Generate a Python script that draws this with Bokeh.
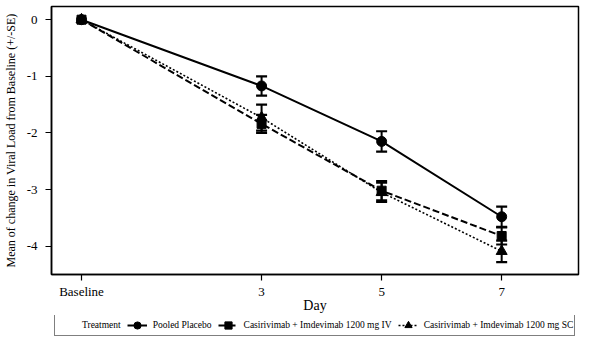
from bokeh.plotting import figure
from bokeh.layouts import column
from bokeh.models import FixedTicker, Legend, LegendItem, ColumnDataSource, Range1d
from bokeh.embed import file_html
from bokeh.resources import INLINE

days = [0, 3, 5, 7]
day_labels = {0: "Baseline", 3: "3", 5: "5", 7: "7"}
y_ticks = [0, -1, -2, -3, -4]

legend_title = "Treatment"
series_names = ["Pooled Placebo",
                "Casirivimab + Imdevimab 1200 mg IV",
                "Casirivimab + Imdevimab 1200 mg SC"]
placebo_mean = [0.0, -1.17, -2.15, -3.48]
placebo_se = [0.0, 0.17, 0.18, 0.18]
iv_mean = [0.0, -1.84, -3.02, -3.82]
iv_se = [0.0, 0.16, 0.17, 0.15]
sc_mean = [0.0, -1.73, -3.05, -4.09]
sc_se = [0.0, 0.23, 0.17, 0.19]

FONT = "Liberation Serif"

p = figure(width=606, height=315, output_backend="svg", toolbar_location=None,
           x_range=Range1d(-0.5, 8.28), y_range=Range1d(-4.5, 0.233),
           min_border_left=46, min_border_right=28, min_border_top=6,
           min_border_bottom=6)
p.grid.visible = False
p.outline_line_color = "black"
p.outline_line_width = 1.5
p.background_fill_color = "white"
p.border_fill_color = "white"

p.xaxis.ticker = FixedTicker(ticks=days)
p.xaxis.major_label_overrides = day_labels
p.yaxis.ticker = FixedTicker(ticks=y_ticks)
p.yaxis.major_label_overrides = {t: str(t) for t in y_ticks}
for ax in (p.xaxis, p.yaxis):
    ax.axis_line_color = "black"
    ax.axis_line_width = 1.5
    ax.major_tick_in = 0
    ax.major_tick_out = 6
    ax.major_tick_line_width = 1.2
    ax.minor_tick_line_color = None
    ax.major_label_text_font = FONT
    ax.major_label_text_font_size = "13px"
    ax.major_label_text_color = "black"
    ax.axis_label_text_font = FONT
    ax.axis_label_text_font_style = "normal"
    ax.axis_label_text_color = "black"
p.xaxis.axis_label = "Day"
p.xaxis.axis_label_text_font_size = "14px"
p.xaxis.axis_label_standoff = -4
p.xaxis.major_label_standoff = 3
p.yaxis.axis_label = "Mean of change in Viral Load from Baseline (+/-SE)"
p.yaxis.axis_label_text_font_size = "12px"
p.yaxis.axis_label_standoff = 6
p.yaxis.major_label_standoff = 8

specs = [
    ("placebo", placebo_mean, placebo_se, "solid", 2, "circle", 10),
    ("sc", sc_mean, sc_se, "2 2", 1.6, "triangle", 11),
    ("iv", iv_mean, iv_se, "7 3", 2, "square", 9),
]
sources = {}
for key, mean, se, dash, lw, marker, size in specs:
    src = ColumnDataSource(dict(x=days, y=mean))
    sources[key] = src
    p.line("x", "y", source=src, line_color="black", line_width=lw, line_dash=dash)
    eb_src = ColumnDataSource(dict(
        x=days[1:], lo=[m - s for m, s in zip(mean[1:], se[1:])],
        hi=[m + s for m, s in zip(mean[1:], se[1:])]))
    p.segment("x", "lo", "x", "hi", source=eb_src, line_color="black", line_width=2)
    p.scatter("x", "lo", source=eb_src, marker="dash", size=11, line_color="black", line_width=2.2)
    p.scatter("x", "hi", source=eb_src, marker="dash", size=11, line_color="black", line_width=2.2)
    p.scatter("x", "y", source=src, marker=marker, size=size,
              fill_color="black", line_color="black")

# legend strip: a figure whose ranges show none of the data, holding only the legend
lf = figure(width=606, height=29, output_backend="svg", toolbar_location=None,
            x_range=Range1d(-200, -199), y_range=Range1d(-200, -199),
            x_axis_type=None, y_axis_type=None,
            min_border_left=0, min_border_right=0, min_border_top=0, min_border_bottom=0)
lf.grid.visible = False
lf.outline_line_color = None
lf.background_fill_color = "white"
lf.border_fill_color = "white"

leg_renders = {}
for key, mean, se, dash, lw, marker, size in specs:
    ln = lf.line("x", "y", source=sources[key], line_color="black", line_width=lw, line_dash=dash)
    mk = lf.scatter("x", "y", source=sources[key], marker=marker, size=size,
                    fill_color="black", line_color="black")
    leg_renders[key] = [ln, mk]
dummy = lf.scatter("x", "y", source=sources["placebo"], size=1, fill_alpha=0, line_alpha=0)

legend = Legend(items=[
    LegendItem(label=legend_title, renderers=[dummy]),
    LegendItem(label=series_names[0], renderers=leg_renders["placebo"]),
    LegendItem(label=series_names[1], renderers=leg_renders["iv"]),
    LegendItem(label=series_names[2], renderers=leg_renders["sc"]),
], orientation="horizontal", location=(3, 8))
legend.label_text_font = FONT
legend.label_text_font_size = "9.5px"
legend.label_text_color = "black"
legend.border_line_color = "black"
legend.border_line_width = 1.2
legend.glyph_width = 20
legend.glyph_height = 18
legend.label_standoff = 6
legend.label_height = 12
legend.spacing = 6
legend.padding = 1
legend.margin = 0
lf.add_layout(legend, "center")

layout = column(p, lf, spacing=0)
open("out.html", "w").write(file_html(layout, INLINE))
